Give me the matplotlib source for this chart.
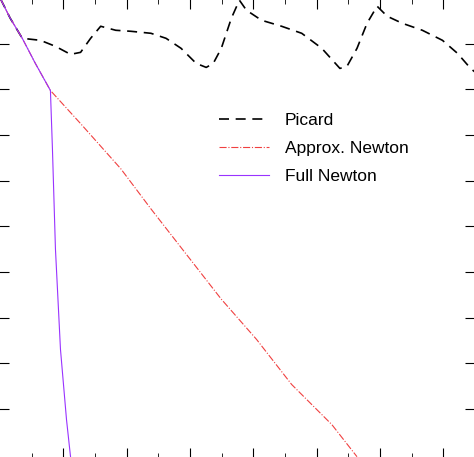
import numpy as np
import matplotlib.pyplot as plt

plt.rcParams['font.family'] = ['Liberation Sans', 'DejaVu Sans']

# values in axis units (x: iterations scaled, y: log residual)
px = 63.0
py = 45.5
picard_x = np.array([0, 10, 22, 40, 55, 70, 80, 90, 100, 115, 130, 150, 165, 180, 195, 205, 212,
                     220, 230, 238, 245, 260, 280, 300, 320, 338, 345, 355, 365, 375, 385, 400,
                     420, 440, 455, 468, 474]) / px
picard_y = -np.array([0, 20, 40, 42, 48, 56, 54, 40, 28, 32, 33, 35, 40, 50, 65, 69, 65,
                      50, 20, 2, 12, 22, 28, 35, 50, 70, 68, 50, 25, 8, 18, 25,
                      32, 42, 55, 70, 75]) / py
approx_x = np.array([0, 10, 22, 35, 50, 80, 120, 150, 185, 220, 255, 290, 330, 355]) / px
approx_y = -np.array([0, 20, 40, 65, 92, 125, 170, 210, 255, 300, 340, 385, 425, 457]) / py
full_x = np.array([0, 10, 22, 35, 50, 52, 55, 60, 66, 70]) / px
full_y = -np.array([0, 20, 40, 65, 92, 150, 250, 350, 420, 457]) / py

fig = plt.figure(figsize=(4.74, 4.57), dpi=100)
ax = fig.add_axes([-0.005, -0.005, 1.01, 1.01])
ax.plot(picard_x, picard_y, color='black', ls=(0, (6, 4)), lw=1.2, label='Picard')
ax.plot(approx_x, approx_y, color='#f04040', ls='-.', lw=0.8, label='Approx. Newton')
ax.plot(full_x, full_y, color='#9933ff', lw=0.8, label='Full Newton')

ax.set_xlim(-0.04, 7.52)
ax.set_ylim(-10.1, 0.01)
ax.set_xticks(np.arange(1, 8))
ax.set_xticks(np.arange(0.5, 7.5, 1), minor=True)
ax.set_yticks(np.arange(-9, 0))
ax.tick_params(which='both', direction='in', top=True, right=True,
               labelbottom=False, labelleft=False)
ax.tick_params(which='major', length=8)
ax.tick_params(which='minor', length=4)
ax.legend(loc='upper left', bbox_to_anchor=(0.43, 0.785), frameon=False,
          fontsize=12.5, handlelength=2.9, handletextpad=0.9, labelspacing=0.75)
fig.savefig('out.png')
